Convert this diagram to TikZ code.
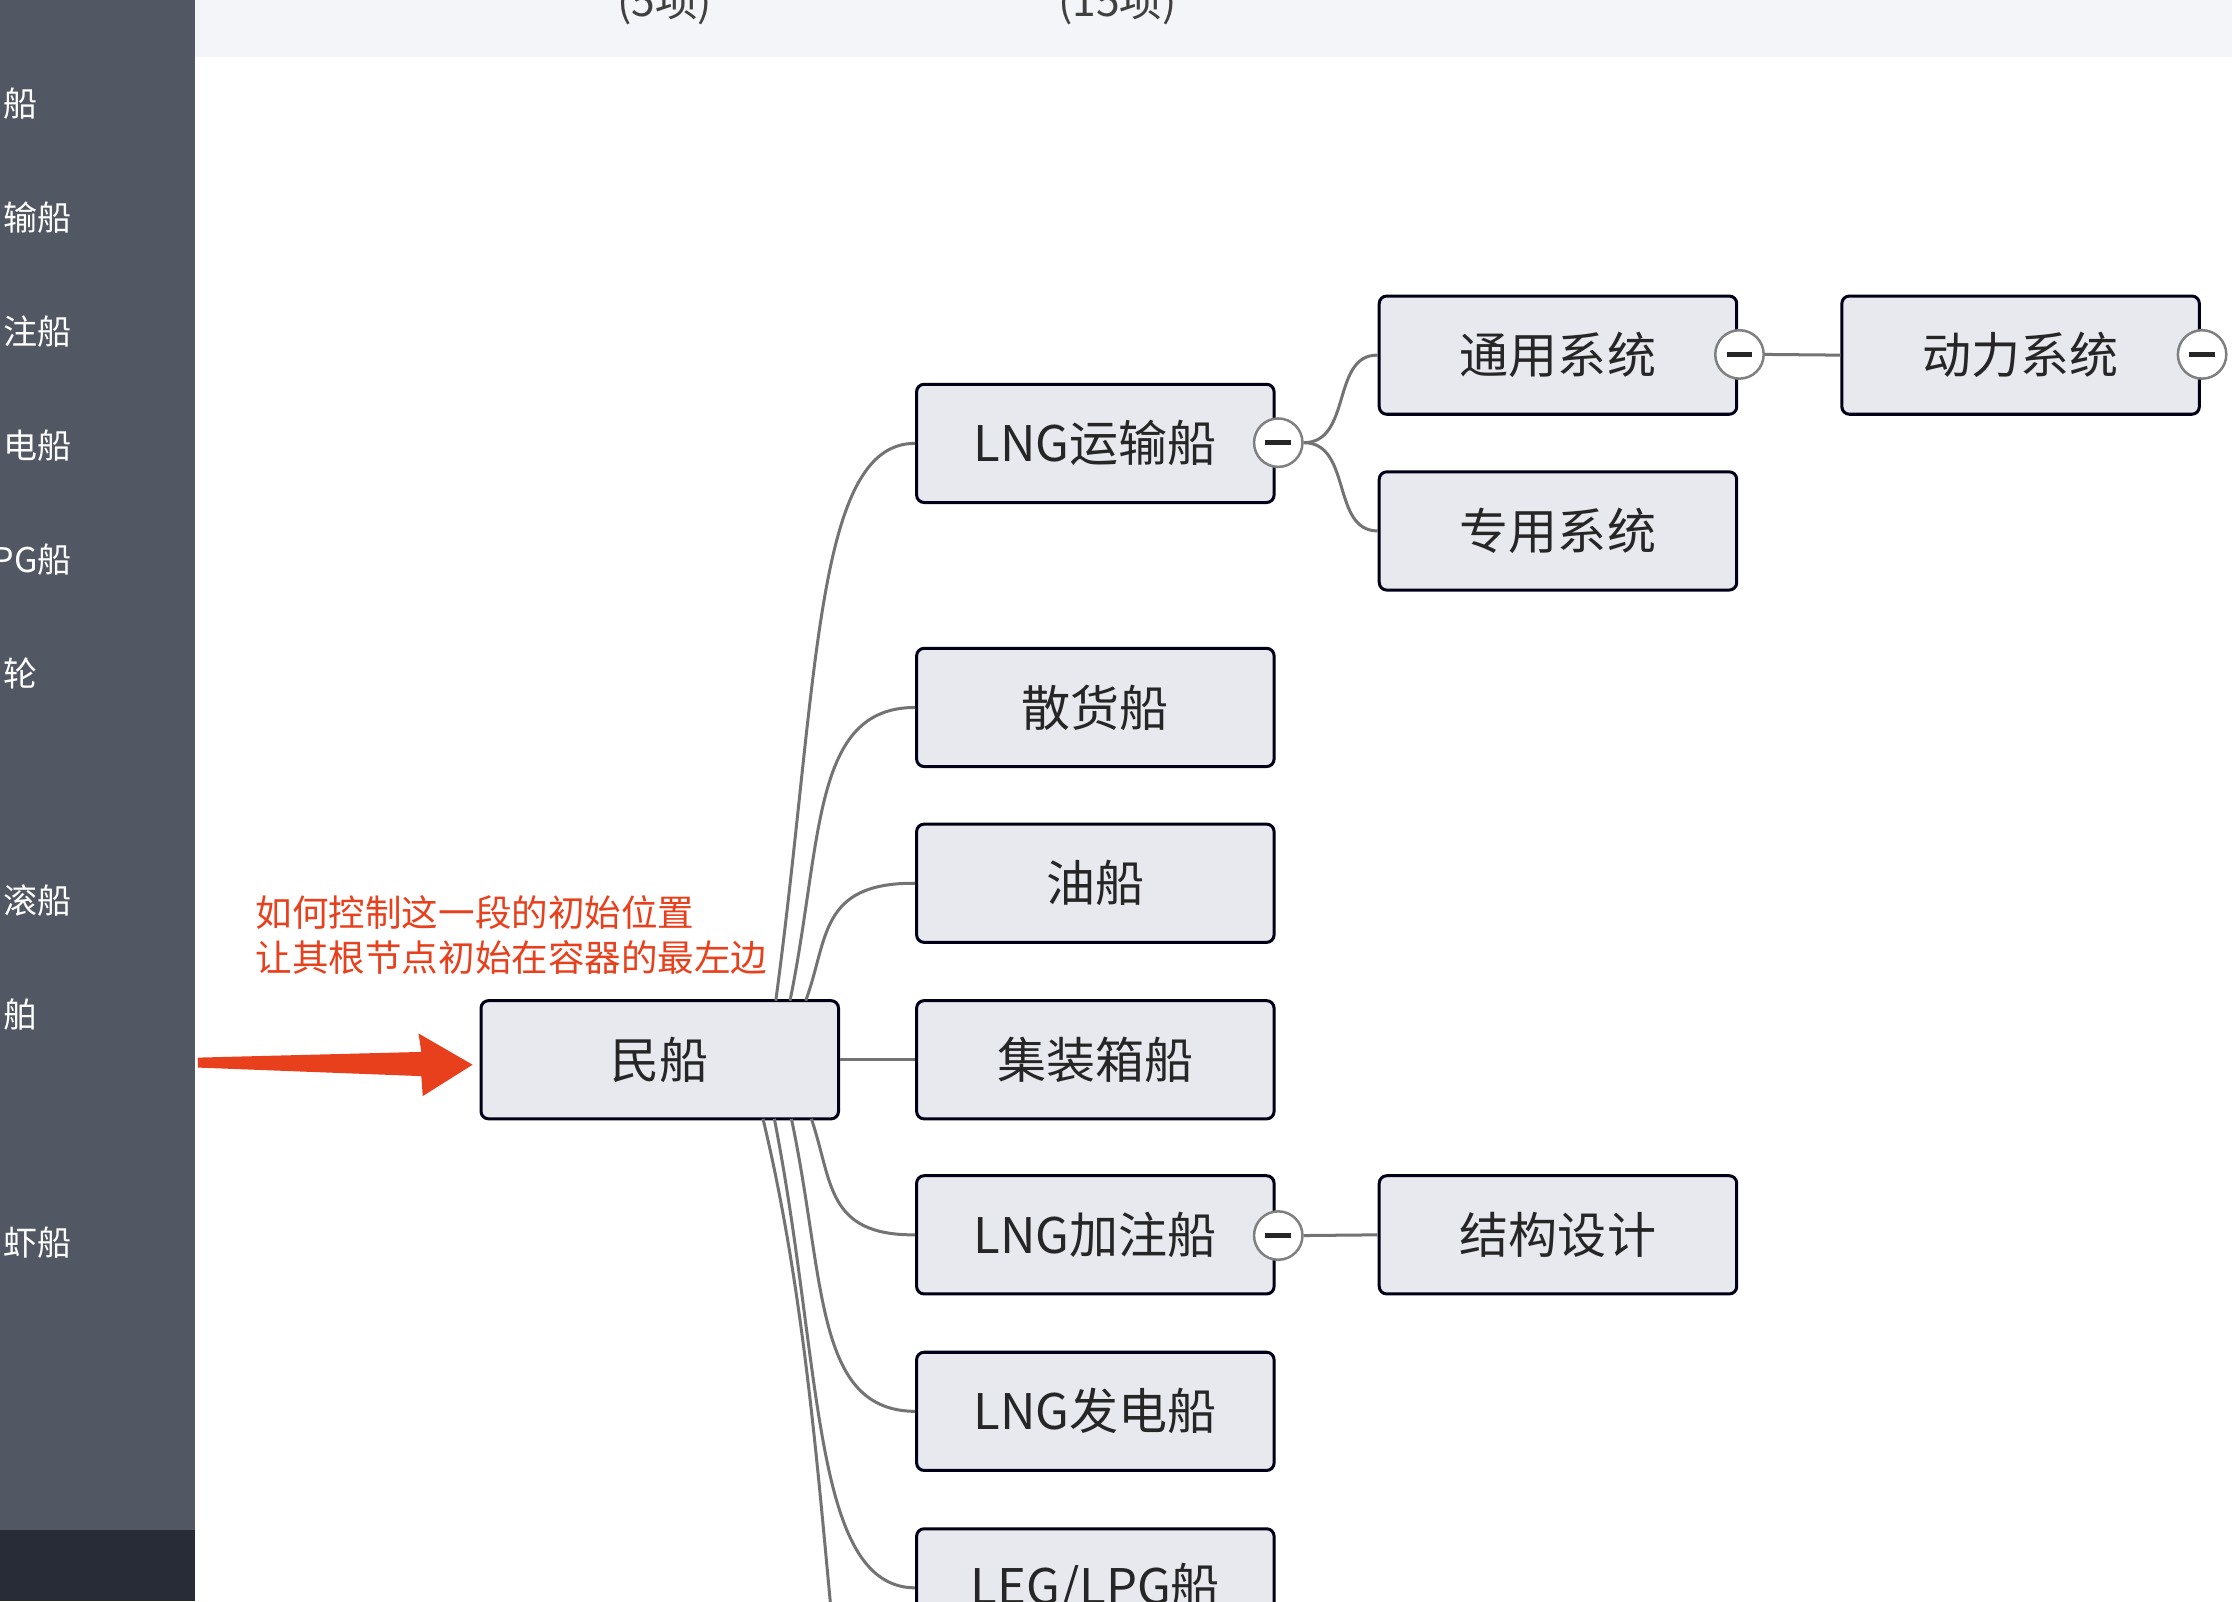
\documentclass[tikz,border=0pt]{standalone}
\usepackage{fontspec}
\setmainfont{Noto Sans CJK SC}
\begin{document}
\begin{tikzpicture}[x=0.01cm,y=-0.01cm,
  box/.style={draw=black!75!blue!40!black,line width=0.6pt,fill=boxfill,rounded corners=1.5pt,minimum width=2.51cm,minimum height=0.83cm,inner sep=0pt,font=\fontsize{9.8}{11}\selectfont,text=black!85},
  coll/.style={circle,draw=gray,fill=white,line width=0.5pt,minimum size=0.34cm,inner sep=0pt},
  conn/.style={draw=gray!90!black,line width=0.6pt},
  side/.style={anchor=west,inner sep=0pt,text=white,font=\fontsize{6.8}{8}\selectfont}]
\definecolor{boxfill}{HTML}{E8E9EE}
\definecolor{sidebar}{HTML}{525863}
\definecolor{sidedark}{HTML}{272C36}
\definecolor{topband}{HTML}{F4F5F8}
\definecolor{annot}{HTML}{E8401C}
\useasboundingbox (0,0) rectangle (1568,1125);
\fill[white] (0,0) rectangle (1568,1125);
\fill[sidebar] (0,0) rectangle (137,1125);
\fill[sidedark] (0,1075) rectangle (137,1125);
\fill[topband] (137,0) rectangle (1568,40);
\node[text=black!75,font=\fontsize{8.5}{10}\selectfont] (t1) at (467,2) {(5项)};
\node[text=black!75,font=\fontsize{8.5}{10}\selectfont] (t2) at (785,2) {(15项)};
\node[side] (s1) at (2,73) {船};
\node[side] (s2) at (2,153) {输船};
\node[side] (s3) at (2,233) {注船};
\node[side] (s4) at (2,313) {电船};
\node[side] (s5) at (-6,393) {PG船};
\node[side] (s6) at (2,473) {轮};
\node[side] (s7) at (2,633) {滚船};
\node[side] (s8) at (2,713) {舶};
\node[side] (s9) at (2,873) {虾船};
% nodes
\node[box] (root) at (463.5,744.5) {民船};
\node[box] (a1) at (769.5,311.5) {LNG运输船};
\node[box] (a2) at (769.5,497) {散货船};
\node[box] (a3) at (769.5,620.5) {油船};
\node[box] (a4) at (769.5,744.5) {集装箱船};
\node[box] (a5) at (769.5,867.5) {LNG加注船};
\node[box] (a6) at (769.5,991.5) {LNG发电船};
\node[box] (a7) at (769.5,1115.5) {LEG/LPG船};
\node[box] (b1) at (1094.5,249.5) {通用系统};
\node[box] (b2) at (1094.5,373) {专用系统};
\node[box] (b3) at (1094.5,867.5) {结构设计};
\node[box] (c1) at (1419.5,249.5) {动力系统};
% connectors
\coordinate (r1) at (545,703);
\coordinate (r2) at (555,703);
\coordinate (r3) at (566,703);
\coordinate (r5) at (570,786);
\coordinate (r6) at (556,786);
\coordinate (r7) at (544,786);
\coordinate (r8) at (536,786);
\coordinate (off) at (600,1260);
\draw[conn] (r1) .. controls (575,480) and (572,311) .. (a1.west);
\draw[conn] (r2) .. controls (578,590) and (570,497) .. (a2.west);
\draw[conn] (r3) .. controls (582,660) and (575,620) .. (a3.west);
\draw[conn] (root.east) -- (a4.west);
\draw[conn] (r5) .. controls (585,830) and (580,868) .. (a5.west);
\draw[conn] (r6) .. controls (580,900) and (572,991) .. (a6.west);
\draw[conn] (r7) .. controls (578,960) and (570,1115) .. (a7.west);
\draw[conn] (r8) .. controls (578,960) and (580,1160) .. (off);
\node[coll] (k1) at (898,311) {};
\node[coll] (k2) at (1222,249) {};
\node[coll] (k3) at (1547,249) {};
\node[coll] (k4) at (898,868) {};
\foreach \k in {k1,k2,k3,k4} \draw[line width=1pt,black!85] ([xshift=-0.09cm]\k.center) -- ([xshift=0.09cm]\k.center);
\draw[conn] (k1.east) .. controls (950,311) and (935,249) .. (b1.west);
\draw[conn] (k1.east) .. controls (950,311) and (935,373) .. (b2.west);
\draw[conn] (k2.east) -- (c1.west);
\draw[conn] (k4.east) -- (b3.west);
% annotation
\node[anchor=west,text=annot,font=\fontsize{7.3}{9}\selectfont,align=left,inner sep=0pt] (note) at (179,657) {如何控制这一段的初始位置\\让其根节点初始在容器的最左边};
\fill[annot] (139,743) -- (296,739) -- (294,726) -- (332,748) -- (297,770) -- (296,756) -- (139,750) -- cycle;
\end{tikzpicture}
\end{document}
